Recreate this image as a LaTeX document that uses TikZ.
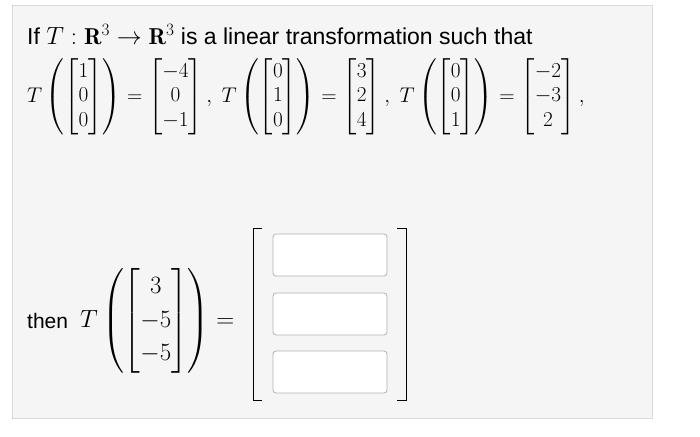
\documentclass[tikz,border=0pt]{standalone}
\usepackage{amsmath}
\usepackage{fontspec}
\setsansfont{Liberation Sans}
\tikzset{ansbox/.style={draw=black!30,fill=white,rounded corners=3pt,minimum width=114pt,minimum height=42pt,line width=0.8pt}}
\begin{document}
\begin{tikzpicture}[x=1pt,y=1pt]
\useasboundingbox (0,0) rectangle (700,-436);
\node[draw=black!15,fill=black!4,line width=0.8pt,minimum width=640pt,minimum height=413pt,anchor=north west] (panel) at (12,-5) {};
\node[anchor=west,inner sep=0] (q) at (27,-35) {\fontsize{23}{26}\selectfont\sffamily If $T:\mathbf{R}^3\to\mathbf{R}^3$ is a linear transformation such that};
\node[anchor=west,inner sep=0,scale=1.025] (eq) at (27,-97) {\fontsize{20}{24}\selectfont$T\left(\begin{bmatrix}1\\0\\0\end{bmatrix}\right)=\begin{bmatrix}-4\\0\\-1\end{bmatrix},\;
T\left(\begin{bmatrix}0\\1\\0\end{bmatrix}\right)=\begin{bmatrix}3\\2\\4\end{bmatrix},\;
T\left(\begin{bmatrix}0\\0\\1\end{bmatrix}\right)=\begin{bmatrix}-2\\-3\\2\end{bmatrix},$};
\node[anchor=west,inner sep=0] (then) at (27,-321) {\fontsize{21}{25}\selectfont\sffamily then};
\node[anchor=west,inner sep=0,scale=1.2] (lhs) at (80,-321) {\fontsize{22}{26}\selectfont$T\left(\left[\begin{matrix}3\\[2pt]-5\\[2pt]-5\end{matrix}\right]\right)=$};
\node[ansbox] (b1) at (330,-255) {};
\node[ansbox] (b2) at (330,-314) {};
\node[ansbox] (b3) at (330,-372) {};
\draw[line width=1pt] (262,-228) -- (253,-228) -- (253,-400) -- (262,-400);
\draw[line width=1pt] (397,-228) -- (406,-228) -- (406,-400) -- (397,-400);
\end{tikzpicture}
\end{document}
